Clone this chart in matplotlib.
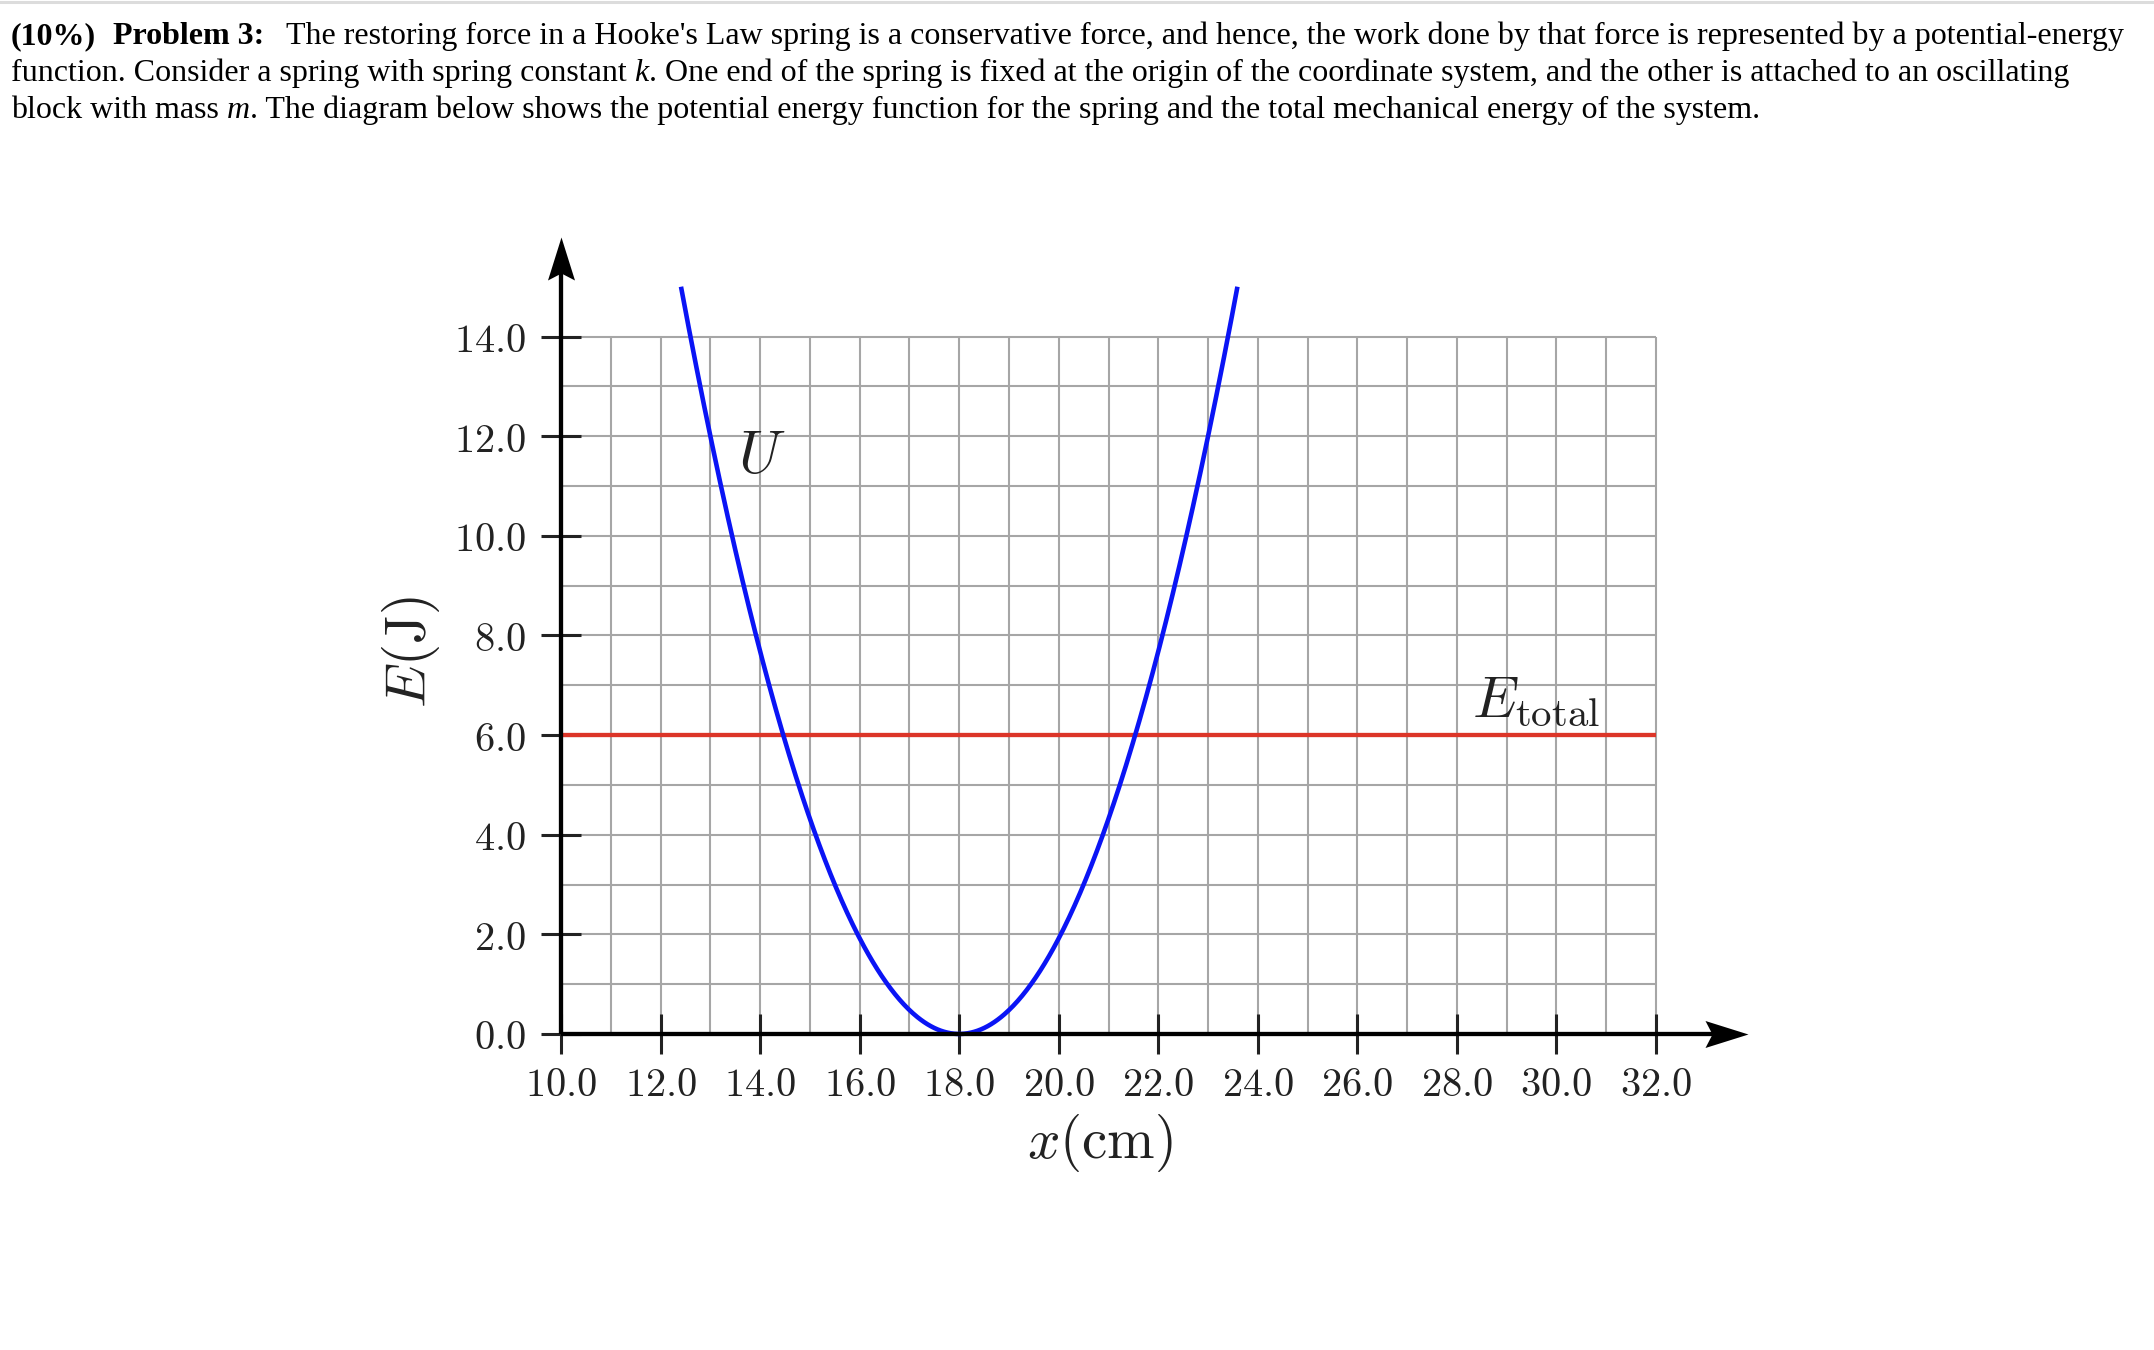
import matplotlib
matplotlib.use("Agg")
import matplotlib.pyplot as plt
import numpy as np
from matplotlib.font_manager import FontProperties
from matplotlib.lines import Line2D
from matplotlib.path import Path

# ---------------- data ----------------
x_ticks = [10.0, 12.0, 14.0, 16.0, 18.0, 20.0, 22.0, 24.0, 26.0, 28.0, 30.0, 32.0]
x_tick_labels = ["10.0", "12.0", "14.0", "16.0", "18.0", "20.0", "22.0", "24.0",
                 "26.0", "28.0", "30.0", "32.0"]
y_ticks = [0.0, 2.0, 4.0, 6.0, 8.0, 10.0, 12.0, 14.0]
y_tick_labels = ["0.0", "2.0", "4.0", "6.0", "8.0", "10.0", "12.0", "14.0"]
grid_x = [10, 11, 12, 13, 14, 15, 16, 17, 18, 19, 20, 21, 22, 23, 24, 25, 26, 27, 28, 29, 30, 31, 32]
grid_y = [0, 1, 2, 3, 4, 5, 6, 7, 8, 9, 10, 11, 12, 13, 14]
grid_x_range = [10.0, 32.0]
grid_y_range = [0.0, 14.0]

x_equilibrium = 18.0      # cm, minimum of U
u_coefficient = 0.48      # J/cm^2  (k/2)
u_top = 15.0              # J, where the drawn curve stops
e_total = 6.0             # J
e_total_x = [10.0, 32.0]
x_axis_end = 33.85
y_axis_end = 16.0

title_bold_1 = "(10%)"
title_bold_2 = "Problem 3:"
line1_rest = ("The restoring force in a Hooke's Law spring is a conservative force, and hence, "
              "the work done by that force is represented by a potential-energy")
line2_parts = ["function. Consider a spring with spring constant", " k",
               ". One end of the spring is fixed at the origin of the coordinate system, "
               "and the other is attached to an oscillating"]
line3_parts = ["block with mass", " m",
               ". The diagram below shows the potential energy function for the spring "
               "and the total mechanical energy of the system."]

# ---------------- figure ----------------
W, H = 2154, 1350
plt.rcParams["mathtext.fontset"] = "cm"
fig = plt.figure(figsize=(W / 100, H / 100), dpi=100)
fig.patch.set_facecolor("white")


def fx(px):
    return px / W


def fy(py):
    return 1 - py / H


# page separator line at top
fig.add_artist(Line2D([0, 1], [fy(1.5), fy(1.5)], transform=fig.transFigure,
                      color="#dcdcdc", lw=2.2))

renderer = fig.canvas.get_renderer()
serif = "Liberation Serif"

probe = fig.text(0, 0, line1_rest, fontproperties=FontProperties(family=serif, size=20))
w20 = probe.get_window_extent(renderer).width
probe.remove()
psize = 20 * (2122 - 286) / w20

fp_norm = FontProperties(family=serif, size=psize)
fp_bold = FontProperties(family=serif, size=psize, weight="bold")
fp_ital = FontProperties(family=serif, size=psize, style="italic")


def draw_segments(x_px, y_px, segs):
    x = x_px
    for s, fp in segs:
        t = fig.text(fx(x), fy(y_px), s, fontproperties=fp, ha="left", va="baseline")
        x += t.get_window_extent(renderer).width


draw_segments(11, 44, [(title_bold_1, fp_bold)])
draw_segments(113, 44, [(title_bold_2, fp_bold)])
draw_segments(286, 44, [(line1_rest, fp_norm)])
draw_segments(11, 81, [(line2_parts[0], fp_norm), (line2_parts[1], fp_ital),
                       (line2_parts[2], fp_norm)])
draw_segments(11, 118, [(line3_parts[0], fp_norm), (line3_parts[1], fp_ital),
                        (line3_parts[2], fp_norm)])

# ---------------- axes ----------------
ax = fig.add_axes([0.21426, 0.19719, 0.62386, 0.64578])
ax.set_xlim(8, 35)
ax.set_ylim(-1, 16.5)
ax.patch.set_alpha(0)
for s in ["top", "right"]:
    ax.spines[s].set_visible(False)
ax.spines["left"].set_position(("data", 10))
ax.spines["bottom"].set_position(("data", 0))
ax.spines["left"].set_visible(False)
ax.spines["bottom"].set_visible(False)

# grid
ax.vlines(grid_x, grid_y_range[0], grid_y_range[1], colors="#a6a6a6", lw=1.5, zorder=1)
ax.hlines(grid_y, grid_x_range[0], grid_x_range[1], colors="#a6a6a6", lw=1.5, zorder=1)

# ticks
ax.set_xticks(x_ticks)
ax.set_xticklabels(["$" + s + "$" for s in x_tick_labels])
ax.set_yticks(y_ticks)
ax.set_yticklabels(["$" + s + "$" for s in y_tick_labels])
ax.tick_params(axis="x", direction="inout", length=28.8, width=2.2, pad=8,
               labelsize=29, colors="#222222", top=False)
ax.tick_params(axis="y", direction="inout", length=28.8, width=2.2, pad=11,
               labelsize=29, colors="#222222", right=False)

# E total line
ax.plot(e_total_x, [e_total, e_total], color="#dc3528", lw=3.1, zorder=3,
        solid_capstyle="butt")

# potential energy curve
half_span = np.sqrt(u_top / u_coefficient)
xs = np.linspace(x_equilibrium - half_span, x_equilibrium + half_span, 500)
us = u_coefficient * (xs - x_equilibrium) ** 2
ax.plot(xs, us, color="#0a14f5", lw=3.3, zorder=3.5, solid_capstyle="butt")

# axes lines with stealth arrow heads
ax.plot([10, 10], [0, y_axis_end - 0.5], color="black", lw=3.1, zorder=4,
        solid_capstyle="butt")
ax.plot([10, x_axis_end - 0.5], [0, 0], color="black", lw=3.1, zorder=4,
        solid_capstyle="butt")
head_up = Path([(0, 0), (13.5, -43), (0, -36), (-13.5, -43), (0, 0)],
               [Path.MOVETO, Path.LINETO, Path.LINETO, Path.LINETO, Path.CLOSEPOLY])
head_right = Path([(0, 0), (-43, 13.5), (-36, 0), (-43, -13.5), (0, 0)],
                  [Path.MOVETO, Path.LINETO, Path.LINETO, Path.LINETO, Path.CLOSEPOLY])
msize = 2 * 43 * 0.72
ax.plot([10], [y_axis_end], marker=head_up, markersize=msize, color="black",
        markeredgewidth=0, zorder=5, linestyle="none")
ax.plot([x_axis_end], [0], marker=head_right, markersize=msize, color="black",
        markeredgewidth=0, zorder=5, linestyle="none")

# labels
ax.text(13.55, 11.26, "$U$", fontsize=43, ha="left", va="baseline", color="#222222")
ax.text(28.3, 6.36, r"$E_{\mathrm{total}}$", fontsize=42, ha="left", va="baseline",
        color="#222222")
fig.text(fx(1100), fy(1143), r"$x(\mathrm{cm})$", fontsize=41, ha="center", va="center",
         color="#222222")
fig.text(fx(411), fy(652), r"$E(\mathrm{J})$", fontsize=41, ha="center", va="center",
         rotation=90, color="#222222")

fig.savefig("out.png", dpi=100, facecolor="white")
